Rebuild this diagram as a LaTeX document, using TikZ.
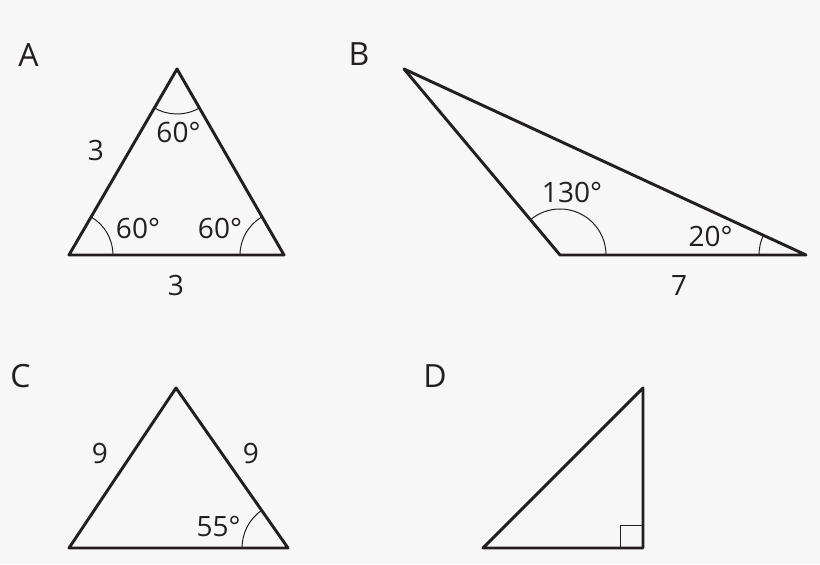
\documentclass[tikz,border=0pt]{standalone}
\usepackage{fontspec}
\setmainfont{Open Sans}
\usetikzlibrary{angles,calc}
\definecolor{bg}{HTML}{F7F7F7}
\definecolor{ink}{HTML}{231F20}
\tikzset{
  tri/.style={draw=ink, line width=2.2pt, line join=round},
  anglemark/.style={draw=ink, line width=0.75pt},
  lbl/.style={anchor=base, inner sep=0pt, text=ink, font=\fontsize{21pt}{25pt}\selectfont},
  big/.style={anchor=base, inner sep=0pt, text=ink, font=\fontsize{24pt}{28pt}\selectfont}
}
\begin{document}
\begin{tikzpicture}[x=0.75pt, y=0.75pt]
\fill[bg] (0,0) rectangle (820,564);
\useasboundingbox (0,0) rectangle (820,564);
% triangle A
\coordinate (A1) at (177,495);
\coordinate (AL) at (69,309);
\coordinate (AR) at (284,309);
\draw[tri] (A1) -- (AL) -- (AR) -- cycle;
\pic[anglemark, angle radius=33.75pt] {angle = AL--A1--AR};
\pic[anglemark, angle radius=33pt] {angle = AR--AL--A1};
\pic[anglemark, angle radius=33pt] {angle = A1--AR--AL};
\node[big] (labA) at (28.5,497) {A};
\node[lbl] (a3l) at (96,403) {3};
\node[lbl] (a60t) at (178.5,421) {60°};
\node[lbl] (a60l) at (138,325) {60°};
\node[lbl] (a60r) at (220,325) {60°};
\node[lbl] (a3b) at (176,268) {3};
% triangle B
\coordinate (BT) at (404,495);
\coordinate (BL) at (560,309);
\coordinate (BR) at (806,309);
\draw[tri] (BT) -- (BL) -- (BR) -- cycle;
\pic[anglemark, angle radius=34.5pt] {angle = BR--BL--BT};
\pic[anglemark, angle radius=35.25pt] {angle = BT--BR--BL};
\node[big] (labB) at (359,498) {B};
\node[lbl] (b130) at (572,361) {130°};
\node[lbl] (b20) at (710.5,317) {20°};
\node[lbl] (b7) at (679,268) {7};
% triangle C
\coordinate (CT) at (176,176);
\coordinate (CL) at (69,16);
\coordinate (CR) at (288,16);
\draw[tri] (CT) -- (CL) -- (CR) -- cycle;
\pic[anglemark, angle radius=34.5pt] {angle = CT--CR--CL};
\node[big] (labC) at (20.5,176) {C};
\node[lbl] (c9l) at (100,101) {9};
\node[lbl] (c9r) at (251,101) {9};
\node[lbl] (c55) at (218.7,28) {55°};
% triangle D
\coordinate (DL) at (483,16);
\coordinate (DR) at (643,16);
\coordinate (DT) at (643,176);
\draw[tri] (DL) -- (DR) -- (DT) -- cycle;
\draw[anglemark] ($(DR)+(-23,0)$) -- ($(DR)+(-23,23)$) -- ($(DR)+(0,23)$);
\node[big] (labD) at (435,176) {D};
\end{tikzpicture}
\end{document}
